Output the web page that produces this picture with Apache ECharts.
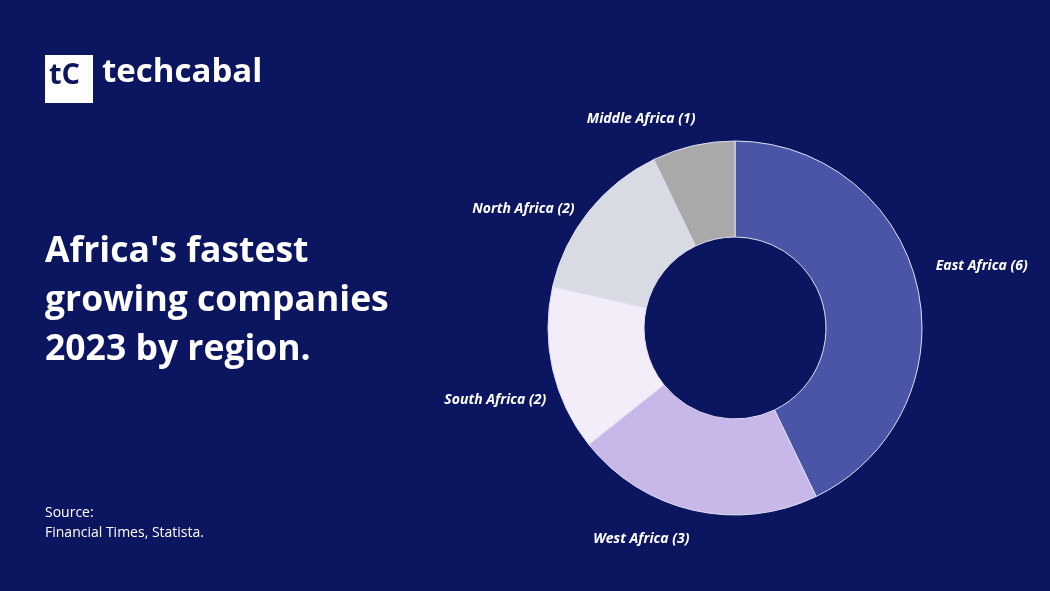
<!DOCTYPE html>
<html>
<head>
<meta charset="utf-8">
<script src="https://cdn.jsdelivr.net/npm/echarts@6/dist/echarts.min.js"></script>
<style>html,body{margin:0;padding:0;background:#0c1660;}#chart{width:1050px;height:591px;}</style>
</head>
<body>
<div id="chart"></div>
<script>
const regions = ['East Africa', 'West Africa', 'South Africa', 'North Africa', 'Middle Africa'];
const counts = [6, 3, 2, 2, 1];
const colors = ['#4a55a8', '#c8b8ea', '#f3ecf9', '#d8dae4', '#a9a9a9'];
// small nudges so labels sit where the reference places them
const labelOffsets = [[-8, -15], [6, 7], [20, 26], [8, 11], [12, -5]];

const chart = echarts.init(document.getElementById('chart'));
const font = '"Open Sans", "Noto Sans", sans-serif';
chart.setOption({
    backgroundColor: '#0c1660',
    graphic: [
        { type: 'rect', left: 45, top: 55, shape: { width: 48, height: 48 }, style: { fill: '#ffffff' } },
        { type: 'text', left: 49, top: 61, style: { text: 'tC', fill: '#0c1660', font: 'bold 29px ' + font } },
        { type: 'text', left: 102, top: 56, style: { text: 'techcabal', fill: '#ffffff', font: 'bold 33px ' + font } },
        { type: 'text', left: 45, top: 227, style: { text: "Africa's fastest\ngrowing companies\n2023 by region.", fill: '#ffffff', font: 'bold 35.5px ' + font, lineHeight: 49 } },
        { type: 'text', left: 45, top: 503, style: { text: 'Source:\nFinancial Times, Statista.', fill: '#ffffff', font: '14px ' + font, lineHeight: 20 } }
    ],
    series: [{
        type: 'pie',
        center: [735, 328],
        radius: [91, 187],
        startAngle: 90,
        clockwise: true,
        itemStyle: { borderColor: '#e0e0f0', borderWidth: 1 },
        label: {
            show: true,
            position: 'outside',
            formatter: p => p.name + ' (' + p.value + ')',
            color: '#ffffff',
            fontFamily: font,
            fontStyle: 'italic',
            fontWeight: 'bold',
            fontSize: 14
        },
        labelLine: { show: false, length: 22, length2: 0 },
        emphasis: { disabled: true },
        data: regions.map((r, i) => ({
            name: r,
            value: counts[i],
            itemStyle: { color: colors[i] },
            label: { offset: labelOffsets[i] }
        }))
    }]
});
</script>
</body>
</html>
